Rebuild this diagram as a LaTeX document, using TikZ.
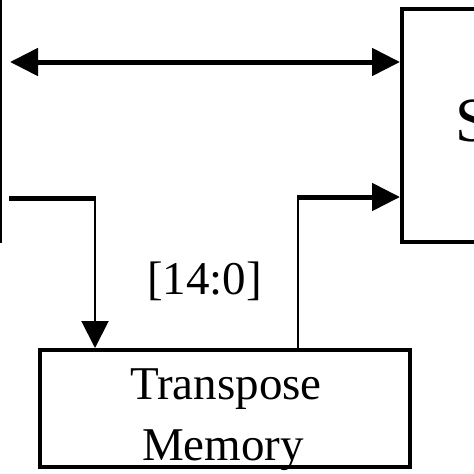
\documentclass[tikz,border=0pt]{standalone}
\usepackage{fontspec}
\setmainfont{Liberation Serif}
\usetikzlibrary{arrows.meta}
\begin{document}
\begin{tikzpicture}[x=1pt,y=-1pt,
  blockbox/.style={draw, line width=4pt, rectangle, inner sep=0pt},
  bus/.style={line width=5pt},
  wire/.style={line width=2pt},
  bigtip/.style={-{Triangle[length=28pt,width=27pt]}},
  lbl/.style={inner sep=0pt, font=\fontsize{47}{56}\selectfont}]
\useasboundingbox (0,0) rectangle (474,474);
\begin{scope}
\clip (0,0) rectangle (474,474);
% left block (mostly off-canvas)
\node[blockbox, minimum width=100pt, minimum height=300pt, anchor=south east] (cpu) at (1.5,243) {};
% right block
\node[blockbox, minimum width=120pt, minimum height=233pt, anchor=north west] (sd) at (400,7) {};
\node[inner sep=0pt, anchor=base west, font=\fontsize{63}{70}\selectfont] (sdtxt) at (455,141) {S};
% transpose memory
\node[blockbox, minimum width=370pt, minimum height=117pt, anchor=north west] (tm) at (38,348) {};
\node[lbl, anchor=base] (tmt1) at (226,399) {Transpose};
\node[lbl, anchor=base] (tmt2) at (223,460) {Memory};
% label
\node[lbl, anchor=base] (bits) at (204.5,294) {[14:0]};
% connectors
\coordinate (p1) at (10,62);
\draw[bus, {Triangle[length=28pt,width=27pt]}-{Triangle[length=28pt,width=27pt]}] (p1) -- (sd.west |- p1);
\coordinate (p2) at (9,198);
\coordinate (p3) at (95,198);
\draw[bus] (p2) -- ([xshift=1pt]p3);
\draw[wire, -{Triangle[length=27pt,width=27pt]}] (p3) -- (p3 |- tm.north);
\coordinate (p4) at (298,197);
\draw[wire] (p4 |- tm.north) -- ([yshift=-1pt]p4);
\draw[bus, bigtip] ([xshift=-1pt]p4) -- (sd.west |- p4);
\end{scope}
\end{tikzpicture}
\end{document}
